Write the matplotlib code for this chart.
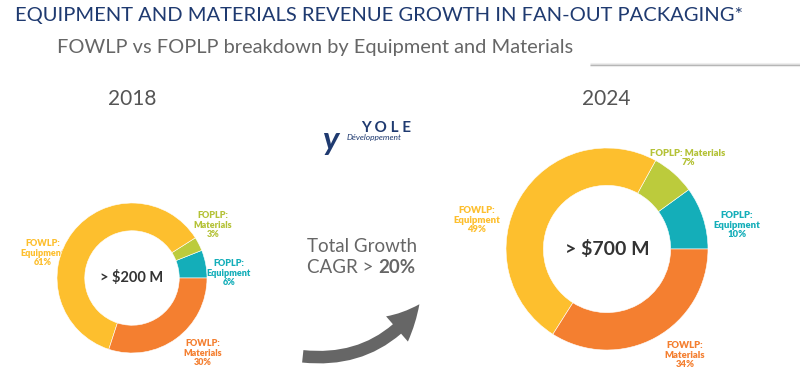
import matplotlib
matplotlib.use('Agg')
import matplotlib.pyplot as plt
from matplotlib.patches import FancyArrowPatch

####################################################################################

plt.rcParams['font.family'] = ['Lato', 'DejaVu Sans']

FIG_W, FIG_H = 800, 392
DPI = 100

NAVY = '#1F3A70'
GREY = '#666666'
DARK = '#333333'

# slice order: FOPLP Equipment, FOPLP Materials, FOWLP Equipment, FOWLP Materials
segments = ['FOPLP:\nEquipment', 'FOPLP:\nMaterials', 'FOWLP:\nEquipment', 'FOWLP:\nMaterials']
colors = ['#14AEB9', '#BCCB3C', '#FDBF2E', '#F47F30']
text_colors = ['#14AEB9', '#B4C236', '#FDBF2E', '#F47F30']

share_2018 = [6, 3, 61, 30]
share_2024 = [10, 7, 49, 34]

years = ['2018', '2024']
totals = ['> $200 M', '> $700 M']

####################################################################################

def px_axes(fig, cx, cy, r):
    # axes box in figure fraction, from pixel centre (top-origin) and radius
    return fig.add_axes([(cx - r) / FIG_W, (FIG_H - cy - r) / FIG_H,
                         2 * r / FIG_W, 2 * r / FIG_H])

def draw_donut(fig, cx, cy, r, values, total, fsize):
    ax = px_axes(fig, cx, cy, r)
    ax.pie(values, colors=colors, startangle=0, counterclock=True, radius=1,
           wedgeprops=dict(width=0.37, edgecolor='white', linewidth=0.4))
    ax.set_xlim(-1, 1)
    ax.set_ylim(-1, 1)
    ax.axis('off')
    ax.text(0, 0, total, ha='center', va='center', fontsize=fsize,
            fontweight='bold', color=DARK)
    return ax

####################################################################################

fig = plt.figure(figsize=(FIG_W / DPI, FIG_H / DPI), dpi=DPI, facecolor='white')

# overlay in pixel coordinates for the slide texts
over = fig.add_axes([0, 0, 1, 1])
over.set_xlim(0, FIG_W)
over.set_ylim(FIG_H, 0)
over.axis('off')

over.text(15, 21, 'EQUIPMENT AND MATERIALS REVENUE GROWTH IN FAN-OUT PACKAGING*',
          fontsize=14.5, color=NAVY, ha='left', va='baseline')
over.text(57, 53, 'FOWLP vs FOPLP breakdown by Equipment and Materials',
          fontsize=14.4, color=GREY, ha='left', va='baseline')
# soft shadow rule under the subtitle
for k, a in enumerate([0.12, 0.25, 0.45, 0.25, 0.12]):
    over.plot([590, 800], [63 + k * 0.8, 63 + k * 0.8], color='#888888',
              alpha=a, linewidth=0.8, solid_capstyle='butt')

over.text(132, 105, years[0], fontsize=15, color='#555555', ha='center', va='baseline')
over.text(606, 105, years[1], fontsize=15, color='#555555', ha='center', va='baseline')

# logo
over.text(386, 132, 'Y O L E', fontsize=11, fontweight='bold', color=NAVY,
          ha='center', va='baseline')
over.text(374, 140, 'Développement', fontsize=6, style='italic', color=NAVY,
          ha='center', va='baseline')
over.text(331, 150, 'y', fontsize=24, fontweight='bold', style='italic', color=NAVY,
          ha='center', va='baseline')

# growth note and arrow
over.text(307, 252, 'Total Growth', fontsize=13.5, color=GREY, ha='left', va='baseline')
cagr = over.text(307, 273, 'CAGR > ', fontsize=13.5, color=GREY, ha='left', va='baseline')
over.annotate('20%', xy=(1, 0), xycoords=cagr, fontsize=13.5, color=GREY,
              fontweight='bold', ha='left', va='bottom')
arrow = FancyArrowPatch((300, 356), (421, 302),
                        connectionstyle='arc3,rad=0.3',
                        arrowstyle='simple,head_width=24,head_length=24,tail_width=9',
                        color='#666666', mutation_scale=1, linewidth=0)
over.add_patch(arrow)

# donuts
draw_donut(fig, 132, 278, 75, share_2018, totals[0], 10.5)
draw_donut(fig, 607, 249, 101, share_2024, totals[1], 14)

# slice labels, pixel positions
lab_2018 = [(229, 273), (213, 225), (43, 253), (203, 353)]
lab_2024 = [(737, 225), (688, 158), (477, 220), (685, 355)]

for i in range(len(segments)):
    over.text(lab_2018[i][0], lab_2018[i][1], segments[i] + '\n' + str(share_2018[i]) + '%',
              fontsize=6.5, fontweight='heavy', color=text_colors[i],
              ha='center', va='center', linespacing=1.1)
    txt = segments[i]
    if i == 1:
        txt = txt.replace('\n', ' ')
    over.text(lab_2024[i][0], lab_2024[i][1], txt + '\n' + str(share_2024[i]) + '%',
              fontsize=6.8, fontweight='heavy', color=text_colors[i],
              ha='center', va='center', linespacing=1.1)

plt.savefig('out.png', dpi=DPI, facecolor='white')
